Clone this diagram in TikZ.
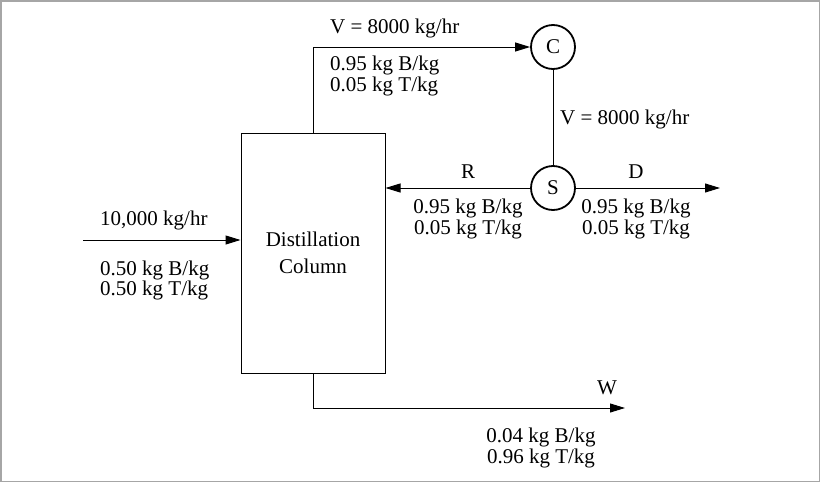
\documentclass[tikz,border=0pt]{standalone}
\usepackage{fontspec}
\setmainfont{Liberation Serif}
\usetikzlibrary{arrows.meta}
\begin{document}
\begin{tikzpicture}[x=1pt,y=-1pt,
  lbl/.style={font=\fontsize{21}{25}\selectfont,inner sep=0pt},
  ln/.style={line width=1pt},
  arr/.style={ln,-{Triangle[length=15pt,width=9pt]}},
  ball/.style={circle,draw,line width=1.8pt,minimum size=44pt,inner sep=0pt,font=\fontsize{21}{25}\selectfont}]
\fill[white] (0,0) rectangle (820,482);
\draw[gray!70,line width=1.5pt] (0.75,0.75) rectangle (819.25,481.25);
\node[draw,ln,minimum width=144pt,minimum height=240pt,lbl,align=center] (col) at (313,253) {Distillation\\[2pt]Column};
\node[ball] (C) at (553,47) {C};
\node[ball] (S) at (553,188) {S};
\coordinate (fin) at (83,240);
\draw[arr] (fin) -- (fin -| col.west);
\node[lbl,anchor=west] (f1) at (100,220) {10,000 kg/hr};
\node[lbl,anchor=west] (f2) at (100,270) {0.50 kg B/kg};
\node[lbl,anchor=west] (f3) at (100,290) {0.50 kg T/kg};
\coordinate (vt) at (313,47);
\draw[arr] (col.north -| vt) -- (vt) -- (C);
\node[lbl,anchor=west] (v1) at (330,28) {V = 8000 kg/hr};
\node[lbl,anchor=west] (v2) at (330,65) {0.95 kg B/kg};
\node[lbl,anchor=west] (v3) at (330,86) {0.05 kg T/kg};
\draw[ln] (C) -- (S);
\node[lbl,anchor=west] (v4) at (560,119) {V = 8000 kg/hr};
\draw[arr] (S) -- (S -| col.east);
\node[lbl] (r) at (468,172) {R};
\node[lbl] (r1) at (468,208) {0.95 kg B/kg};
\node[lbl] (r2) at (468,229) {0.05 kg T/kg};
\coordinate (dend) at (720,188);
\draw[arr] (S) -- (dend);
\node[lbl] (d) at (636,172) {D};
\node[lbl] (d1) at (636,208) {0.95 kg B/kg};
\node[lbl] (d2) at (636,229) {0.05 kg T/kg};
\coordinate (wb) at (313,408);
\coordinate (wend) at (625,408);
\draw[arr] (col.south -| wb) -- (wb) -- (wend);
\node[lbl] (w) at (607,388) {W};
\node[lbl] (w1) at (541,437) {0.04 kg B/kg};
\node[lbl] (w2) at (541,458) {0.96 kg T/kg};
\end{tikzpicture}
\end{document}
